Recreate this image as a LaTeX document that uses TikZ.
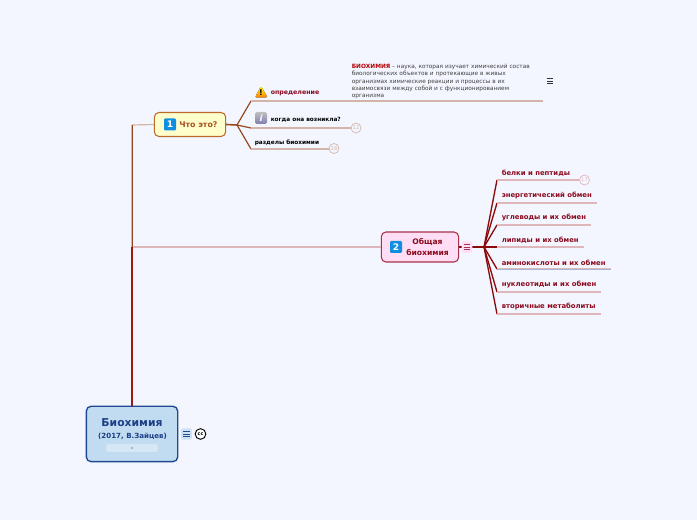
\documentclass[tikz,border=0pt]{standalone}
\usepackage{fontspec}
\setmainfont{DejaVu Sans}
\usetikzlibrary{positioning}
\usetikzlibrary{calc}
\definecolor{paper}{HTML}{F4F6FF}
\definecolor{rootfill}{HTML}{C1DCF0}
\definecolor{rootline}{HTML}{1F4A93}
\definecolor{rootink}{HTML}{1C3F85}
\definecolor{onefill}{HTML}{FFFFCC}
\definecolor{oneline}{HTML}{BC6A2A}
\definecolor{oneink}{HTML}{A8501E}
\definecolor{twofill}{HTML}{FFDDF4}
\definecolor{twoline}{HTML}{A8324A}
\definecolor{twoink}{HTML}{8B0A1E}
\definecolor{trunk}{HTML}{981A10}
\definecolor{branchone}{HTML}{96491F}
\definecolor{branchtwo}{HTML}{8B0A0A}
\definecolor{underone}{HTML}{D2B4A8}
\definecolor{undertwo}{HTML}{DFB6BA}
\definecolor{badge}{HTML}{0E8FE0}
\tikzset{
    topicbox/.style={draw, rounded corners=3.5pt, line width=0.8pt, align=center, inner sep=0pt},
    leaflabel/.style={font=\fontsize{5.15}{5.6}\selectfont\bfseries, anchor=south west, inner sep=0pt, text=twoink},
    smalllabel/.style={font=\fontsize{4.35}{5}\selectfont\bfseries, anchor=south west, inner sep=0pt, text=black},
    counter/.style={circle, draw=underone, fill=paper, line width=0.5pt, minimum size=7.5pt, inner sep=0pt, font=\fontsize{3.9}{4}\selectfont, text=underone},
    numbadge/.style={rounded corners=0.8pt, fill=badge, text=white, minimum size=9pt, inner sep=0pt, font=\fontsize{6.8}{6.8}\selectfont\bfseries},
    noteicon/.style={minimum width=8pt, minimum height=8.5pt, inner sep=0pt, rounded corners=1pt, font=\fontsize{7}{7}\selectfont},
}
\newcommand{\lines}[3]{%
    \draw[#3, line width=0.4pt] ($(#1)+(-#2,1.9pt)$) -- ++(2*#2,0) ($(#1)+(-#2,0)$) -- ++(2*#2,0) ($(#1)+(-#2,-1.9pt)$) -- ++(2*#2,0);}
\begin{document}
\begin{tikzpicture}[x=0.75pt, y=-0.75pt]
    \useasboundingbox[fill=paper] (0,0) rectangle (697,520);

    %Junctions
    \coordinate (RootTop) at (132,406);
    \coordinate (TrunkOne) at (132,125);
    \coordinate (TrunkTwo) at (132,247);
    \coordinate (ForkOne) at (237,125);
    \coordinate (ForkTwo) at (484,247);

    %Boxes
    \node[topicbox, draw=rootline, fill=rootfill, line width=1pt, minimum width=68.5pt, minimum height=41.5pt] (Root) at (132,434) {};
    \node[font=\fontsize{8.1}{8}\selectfont\bfseries, text=rootink, inner sep=0pt] (RootTitle) at (132,422.5) {Биохимия};
    \node[font=\fontsize{5.3}{5}\selectfont\bfseries, text=rootink, inner sep=0pt] (RootYear) at (132.5,436) {(2017, В.Зайцев)};
    \node[rounded corners=2pt, fill=white, fill opacity=0.35, minimum width=39pt, minimum height=6pt, inner sep=0pt] (RootBar) at (132,448) {};
    \node[circle, fill=gray!60, minimum size=2pt, inner sep=0pt] (RootDot) at (132,448) {};

    \node[topicbox, draw=oneline, fill=onefill, minimum width=53.5pt, minimum height=18pt] (One) at (190,124.5) {};
    \node[numbadge] (OneBadge) at (170,124.5) {1};
    \node[font=\fontsize{5.9}{6}\selectfont\bfseries, text=oneink, inner sep=0pt, anchor=west] (OneText) at (179,125) {Что это?};

    \node[topicbox, draw=twoline, fill=twofill, minimum width=58pt, minimum height=22.5pt] (Two) at (420,247) {};
    \node[numbadge] (TwoBadge) at (396,247) {2};
    \node[font=\fontsize{5.7}{7.6}\selectfont\bfseries, text=twoink, inner sep=0pt, align=center] (TwoText) at (427.5,247) {Общая\\биохимия};

    %Branch ends
    \foreach \name/\x/\y in {EndA/251/101, EndB/251/128, EndC/251/149,
        LeafA/497/180, LeafB/497/203, LeafC/497/225, LeafD/497/247, LeafE/497/269, LeafF/497/292, LeafG/497/314}
        \coordinate (\name) at (\x,\y);
    \foreach \name/\x/\y in {EndAr/543/101, EndBr/351/128, EndCr/329/149,
        LeafAr/579/180, LeafBr/597/203, LeafCr/591/225, LeafDr/584/247, LeafEr/611/269, LeafFr/601/292, LeafGr/601/314}
        \coordinate (\name) at (\x,\y);

    %Trunks
    \draw[underone, line width=0.9pt] (TrunkOne) -- (One.west);
    \draw[undertwo, line width=0.9pt] (TrunkTwo) -- (Two.west);
    \draw[underone, line width=1pt] (RootTop) -- (TrunkOne);
    \draw[branchone, line width=0.45pt] (RootTop) -- (TrunkOne);
    \draw[trunk, line width=1.7pt] (RootTop) -- ($(TrunkTwo)+(0,60)$);
    \draw[trunk, line width=0.9pt] ($(TrunkTwo)+(0,60)$) -- (TrunkTwo);

    %Fork of the first topic
    \draw[branchone, line width=1.2pt] (One.east) -- (ForkOne);
    \foreach \e in {EndA, EndB, EndC}
        \draw[branchone, line width=0.9pt] (ForkOne) -- (\e);
    \foreach \e in {A, B, C}
        \draw[underone, line width=0.8pt] (End\e) -- (End\e r);

    %Fork of the second topic
    \draw[branchtwo, line width=1.3pt] (Two.east) -- (ForkTwo);
    \foreach \e in {A, B, C, D, E, F, G}{
        \draw[branchtwo, line width=1pt] (ForkTwo) -- (Leaf\e);
        \draw[undertwo, line width=0.8pt] (Leaf\e) -- (Leaf\e r);
    }
    \draw[rootline!40, line width=0.7pt] (LeafE) -- (LeafEr);

    %Labels
    \node[leaflabel, font=\fontsize{4.7}{5}\selectfont\bfseries] (DefLabel) at (270.5,96) {определение};
    \node[smalllabel] (WhenLabel) at (270.5,122.5) {когда она возникла?};
    \node[smalllabel] (PartsLabel) at (254.5,145.5) {разделы биохимии};
    \node[font=\fontsize{4.35}{5.4}\selectfont, text=black!75, anchor=north west, inner sep=0pt, align=left] (DefText) at (351.5,64)
        {\textcolor{red!70!black}{\textbf{БИОХИМИЯ}} – наука, которая изучает химический состав\\биологических объектов и протекающие в живых\\организмах химические реакции и процессы в их\\взаимосвязи между собой и с функционированием\\организма};

    \node[leaflabel] (LeafAText) at (501.5,176.5) {белки и пептиды};
    \node[leaflabel] (LeafBText) at (501.5,199.5) {энергетический обмен};
    \node[leaflabel] (LeafCText) at (501.5,221.5) {углеводы и их обмен};
    \node[leaflabel] (LeafDText) at (501.5,243.5) {липиды и их обмен};
    \node[leaflabel] (LeafEText) at (501.5,266) {аминокислоты и их обмен};
    \node[leaflabel] (LeafFText) at (501.5,288.5) {нуклеотиды и их обмен};
    \node[leaflabel] (LeafGText) at (501.5,310.5) {вторичные метаболиты};

    %Counters
    \node[counter] (CountWhen) at (356,128) {12};
    \node[counter] (CountParts) at (334,148.5) {28};
    \node[counter, draw=undertwo, text=undertwo] (CountLeaf) at (584.5,180) {17};

    %Icons
    \fill[rounded corners=1pt, top color=yellow!90!white, bottom color=orange] (255,97.5) -- (261,86) -- (267.5,97.5) -- cycle;
    \node[font=\fontsize{6}{6}\selectfont\bfseries, inner sep=0pt] (WarnMark) at (261,92.8) {!};
    \node[rounded corners=1.2pt, top color=black!25, bottom color=blue!40!black!50, minimum size=9pt, inner sep=0pt, text=white, font=\fontsize{6.5}{6.5}\selectfont\bfseries\itshape] (InfoIcon) at (261,118) {i};

    \node[noteicon] (NoteDef) at (550,81) {};
    \lines{NoteDef}{2.4pt}{black!80}
    \node[noteicon, fill=twofill] (NoteTwo) at (467,247) {};
    \lines{NoteTwo}{2.6pt}{twoline}
    \node[noteicon, fill=rootfill!80] (NoteRoot) at (186.5,434) {};
    \lines{NoteRoot}{2.6pt}{rootline}
    \node[circle, draw=black, fill=white, line width=0.7pt, minimum size=8pt, inner sep=0pt, font=\fontsize{3.6}{4}\selectfont\bfseries] (CcIcon) at (200.5,434) {cc};
\end{tikzpicture}
\end{document}
